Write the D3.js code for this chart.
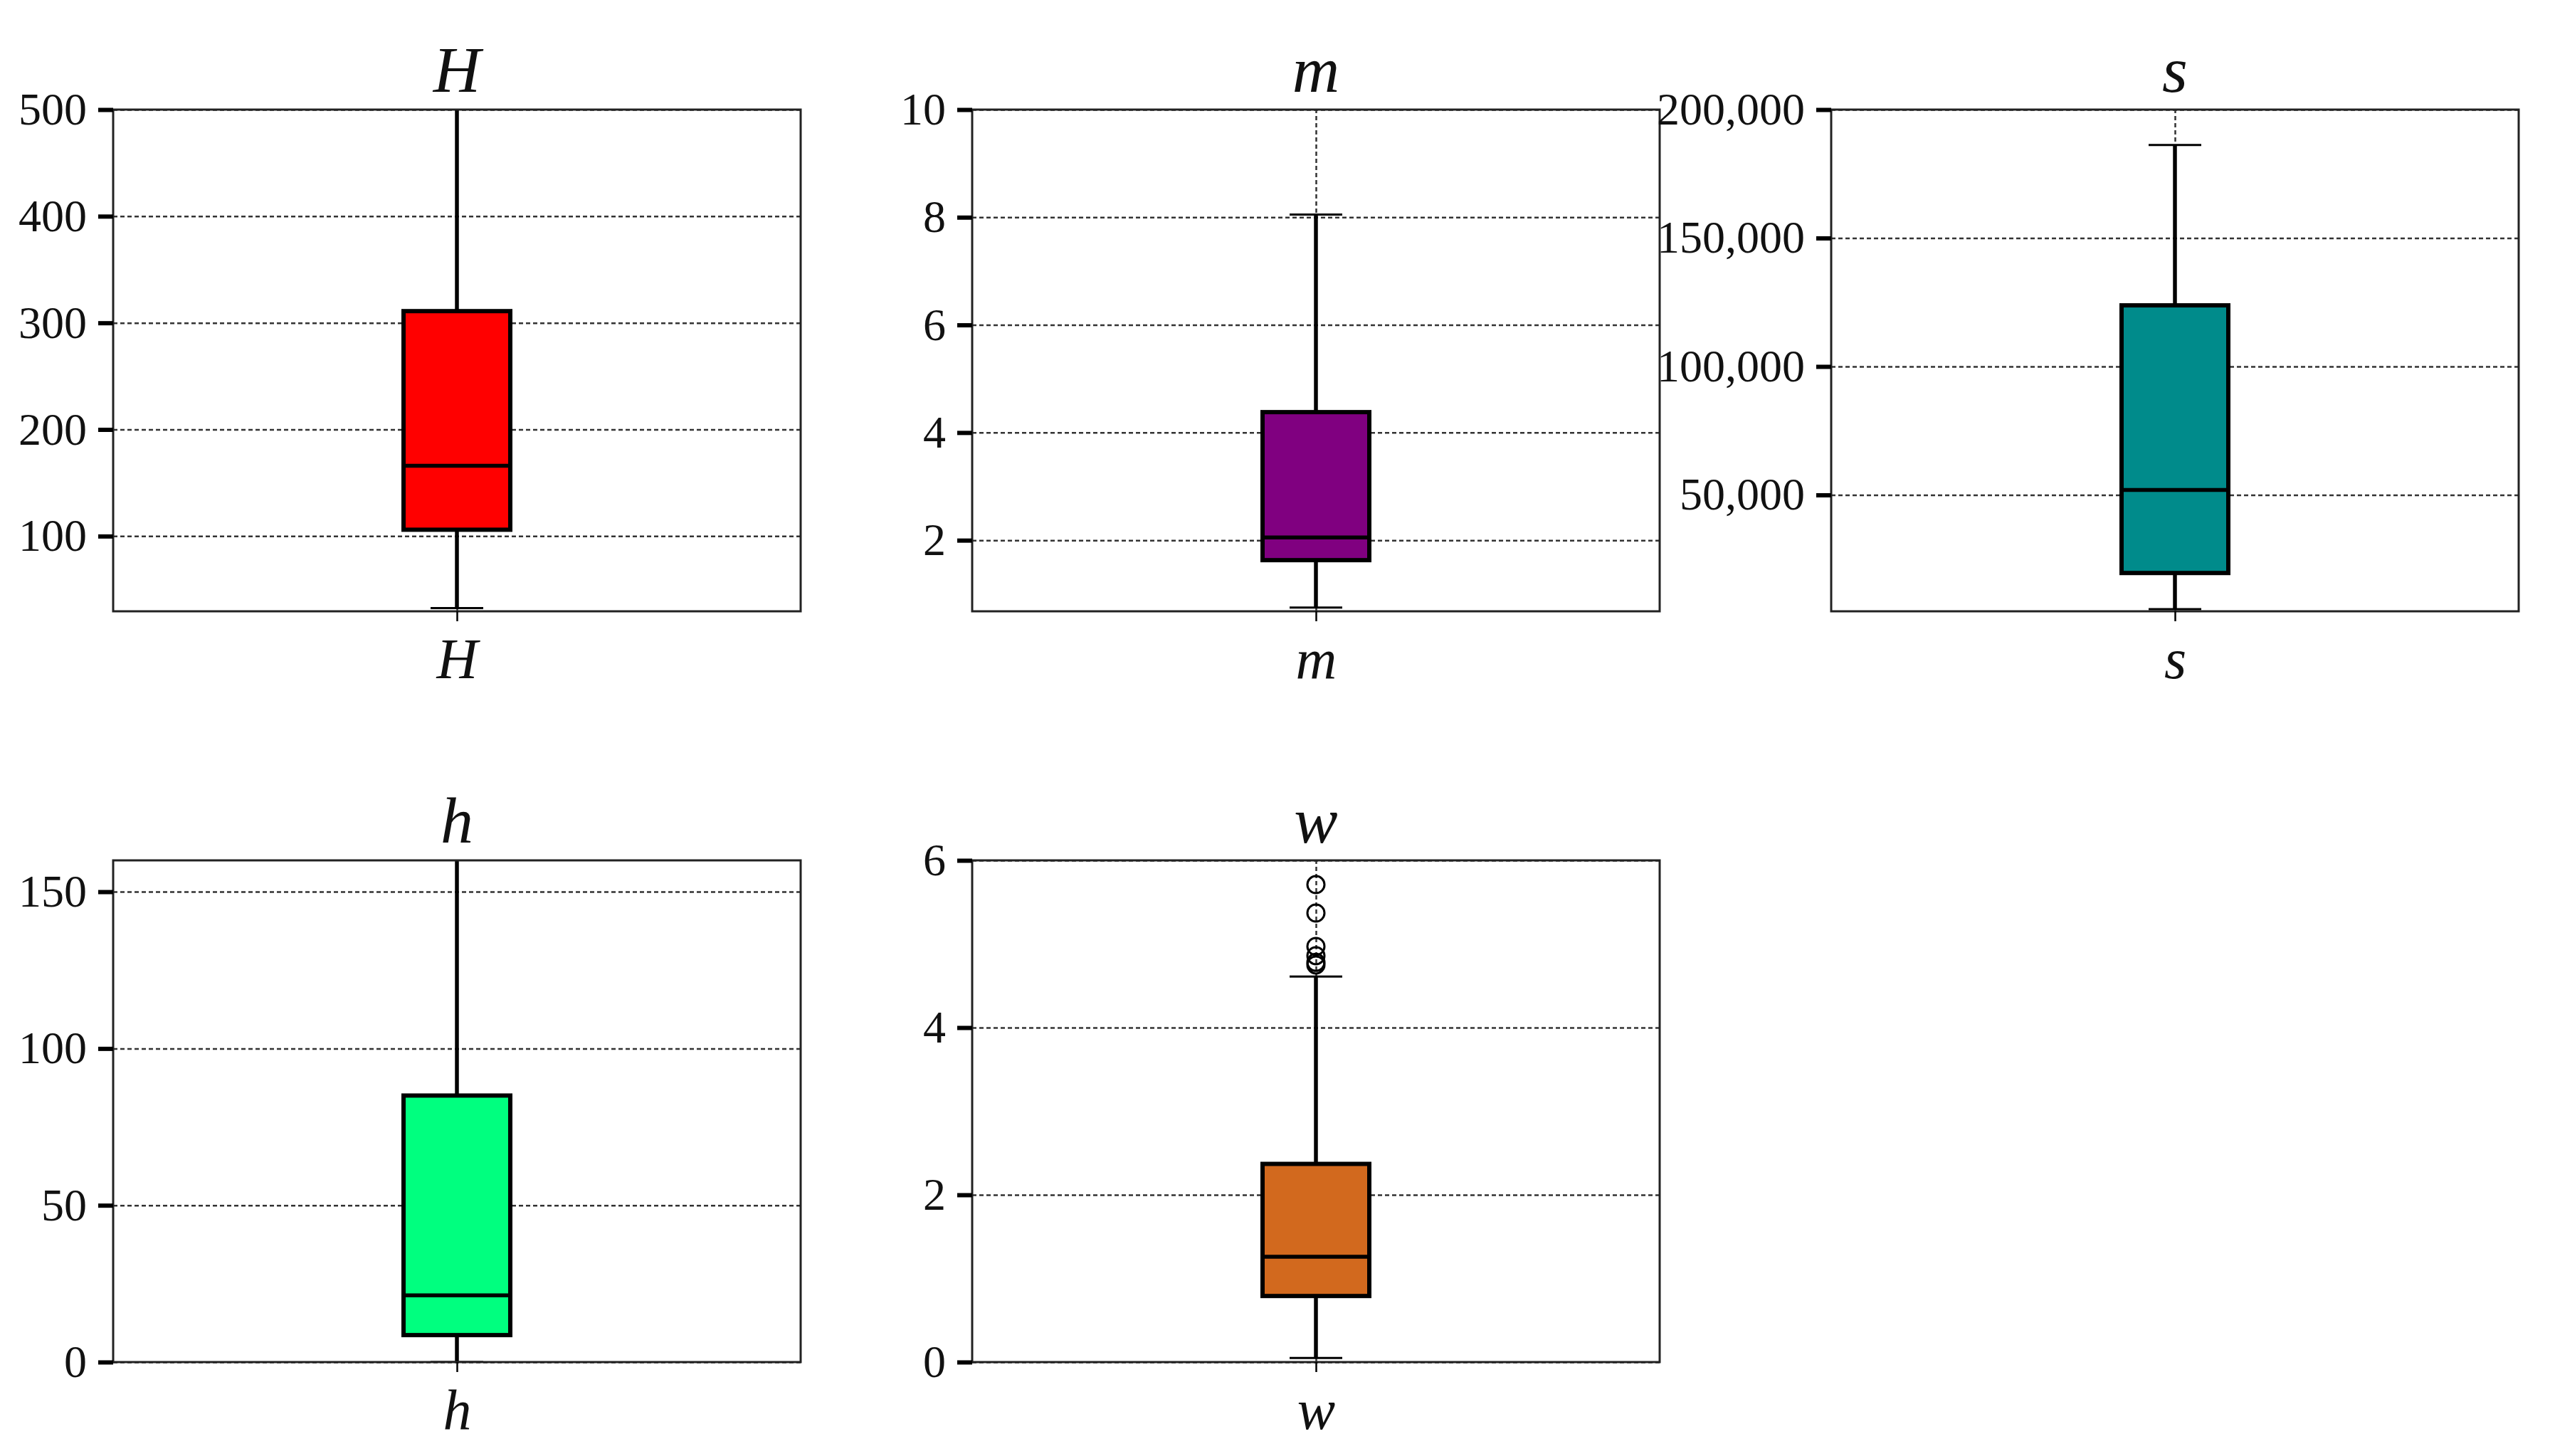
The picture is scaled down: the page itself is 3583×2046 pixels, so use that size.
<!DOCTYPE html>
<html>
<head>
<meta charset="utf-8">
<script src="https://cdn.jsdelivr.net/npm/d3@7"></script>
<style>
  body { margin: 0; background: #fff; }
  text { font-family: "Liberation Serif", "Times New Roman", serif; fill: #111; }
</style>
</head>
<body>
<div id="chart"></div>
<script>
// box plot summaries, one entry per variable
const names = ["H", "m", "s", "h", "w"];
const colors = ["#ff0000", "#800080", "#008b8b", "#00ff7f", "#d2691e"];
const whiskerLow = [32.5, 0.75, 5500, 0, 0.05];
const q1 = [106, 1.63, 19600, 8.6, 0.79];
const median = [166, 2.05, 51900, 21.3, 1.26];
const q3 = [311, 4.38, 123800, 85, 2.37];
const whiskerHigh = [540, 8.05, 186200, 175, 4.61];
const outliers = [[], [], [], [], [5.71, 5.37, 4.97, 4.86, 4.78, 4.75]];
const yDomains = [[29.5, 500], [0.68, 10], [4700, 200000], [0, 160], [0, 6]];
const yTicks = [
  [100, 200, 300, 400, 500],
  [2, 4, 6, 8, 10],
  [50000, 100000, 150000, 200000],
  [0, 50, 100, 150],
  [0, 2, 4, 6]
];

const W = 3583, H = 2046;
const panelW = 966, panelH = 705;
const colX = [159, 1366, 2573];
const rowY = [154, 1209];

const svg = d3.select("#chart").append("svg")
  .attr("width", W)
  .attr("height", H);

names.forEach((name, i) => {
  const col = i % 3, row = Math.floor(i / 3);
  const g = svg.append("g")
    .attr("transform", "translate(" + colX[col] + "," + rowY[row] + ")");

  const x = d3.scalePoint().domain([name]).range([0, panelW]).padding(0.5);
  const y = d3.scaleLinear().domain(yDomains[i]).range([panelH, 0]);
  const cx = x(name);
  const fmt = i === 2 ? d3.format(",") : d3.format("d");

  // clip so the whiskers running past the limits stop at the frame
  g.append("clipPath").attr("id", "clip" + i)
    .append("rect").attr("width", panelW).attr("height", panelH);

  // grid lines
  g.append("g")
    .attr("class", "grid")
    .call(d3.axisLeft(y).tickValues(yTicks[i]).tickSize(-panelW).tickFormat(""))
    .call(a => a.select(".domain").remove())
    .selectAll("line")
    .attr("stroke", "#333")
    .attr("stroke-width", 2.5)
    .attr("stroke-dasharray", "6,4");

  g.append("g")
    .call(d3.axisBottom(x).tickSize(-panelH).tickFormat(""))
    .attr("transform", "translate(0," + panelH + ")")
    .call(a => a.select(".domain").remove())
    .selectAll("line")
    .attr("stroke", "#333")
    .attr("stroke-width", 2.5)
    .attr("stroke-dasharray", "6,4");

  const box = g.append("g").attr("clip-path", "url(#clip" + i + ")");
  const bw = 150, cw = 74;

  // whiskers
  box.append("line")
    .attr("x1", cx).attr("x2", cx)
    .attr("y1", y(whiskerLow[i])).attr("y2", y(q1[i]))
    .attr("stroke", "#000").attr("stroke-width", 5.5);
  box.append("line")
    .attr("x1", cx).attr("x2", cx)
    .attr("y1", y(q3[i])).attr("y2", y(whiskerHigh[i]))
    .attr("stroke", "#000").attr("stroke-width", 5.5);
  [whiskerLow[i], whiskerHigh[i]].forEach(v => {
    box.append("line")
      .attr("x1", cx - cw / 2).attr("x2", cx + cw / 2)
      .attr("y1", y(v)).attr("y2", y(v))
      .attr("stroke", "#000").attr("stroke-width", 3);
  });

  // box and median
  box.append("rect")
    .attr("x", cx - bw / 2)
    .attr("y", y(q3[i]))
    .attr("width", bw)
    .attr("height", y(q1[i]) - y(q3[i]))
    .attr("fill", colors[i])
    .attr("stroke", "#000")
    .attr("stroke-width", 6);
  box.append("line")
    .attr("x1", cx - bw / 2).attr("x2", cx + bw / 2)
    .attr("y1", y(median[i])).attr("y2", y(median[i]))
    .attr("stroke", "#000").attr("stroke-width", 5.5);

  // fliers
  box.selectAll("circle.flier")
    .data(outliers[i])
    .enter()
    .append("circle")
    .attr("class", "flier")
    .attr("cx", cx)
    .attr("cy", d => y(d))
    .attr("r", 12)
    .attr("fill", "none")
    .attr("stroke", "#000")
    .attr("stroke-width", 3);

  // frame
  g.append("rect")
    .attr("width", panelW).attr("height", panelH)
    .attr("fill", "none")
    .attr("stroke", "#222")
    .attr("stroke-width", 3);

  // y axis
  const yAxis = g.append("g")
    .call(d3.axisLeft(y).tickValues(yTicks[i]).tickSize(21).tickPadding(16).tickFormat(fmt));
  yAxis.select(".domain").remove();
  yAxis.selectAll("line").attr("stroke", "#000").attr("stroke-width", 6);
  yAxis.selectAll("text")
    .style("font-size", "64px")
    .attr("fill", "#111");

  // x axis with single tick
  const xAxis = g.append("g")
    .attr("transform", "translate(0," + panelH + ")")
    .call(d3.axisBottom(x).tickSize(14).tickPadding(0));
  xAxis.select(".domain").remove();
  xAxis.selectAll("line").attr("stroke", "#000").attr("stroke-width", 2.5);
  xAxis.selectAll("text")
    .attr("y", 94)
    .attr("dy", 0)
    .style("font-size", "80px")
    .style("font-style", "italic")
    .attr("fill", "#111");

  // title
  g.append("text")
    .attr("x", cx)
    .attr("y", -25)
    .attr("text-anchor", "middle")
    .style("font-size", "92px")
    .style("font-style", "italic")
    .text(name);
});
</script>
</body>
</html>
